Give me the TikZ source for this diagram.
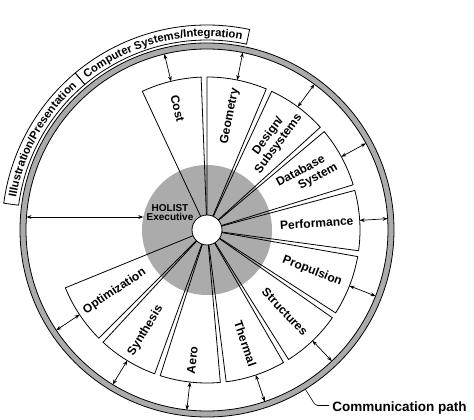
\documentclass[tikz,border=0pt]{standalone}
\usepackage{fontspec}
\setmainfont{Liberation Sans}
\usetikzlibrary{arrows.meta,decorations.text}
\newcommand\myarcfont{\fontsize{11.3}{13}\selectfont\bfseries}
\begin{document}
\begin{tikzpicture}[x=1pt,y=1pt,
  line width=0.8pt,
  link/.style={{Stealth[length=5pt,width=3.8pt]}-{Stealth[length=5pt,width=3.8pt]}, line width=0.7pt},
  modlabel/.style={font=\fontsize{12}{13}\selectfont\bfseries, align=center, inner sep=0pt},
  halftone/.style={fill=black!33},
  leader/.style={line width=0.6pt, rounded corners=2pt},
]
\useasboundingbox (-207,-190) rectangle (267,230);
% communication ring
\fill[halftone, even odd rule] (0,0) circle[radius=187] (0,0) circle[radius=181];
\draw (0,0) circle[radius=187];
\draw (0,0) circle[radius=181];
% outer label boxes
\draw (78:190) arc[start angle=78,end angle=130,radius=190] -- (130:205)
      arc[start angle=130,end angle=78,radius=205] -- cycle;
\draw (130:190) arc[start angle=130,end angle=172.5,radius=190] -- (172.5:205)
      arc[start angle=172.5,end angle=130,radius=205] -- cycle;
\path[decorate,decoration={text along path,text align=center,
      text={|\myarcfont|Computer Systems/Integration}}]
      (129:193.5) arc[start angle=129,end angle=79,radius=193.5];
\path[decorate,decoration={text along path,text align=center,
      text={|\myarcfont|Illustration/Presentation}}]
      (171.5:193.5) arc[start angle=171.5,end angle=131,radius=193.5];
% hub
\fill[halftone] (0,0) circle[radius=65];
% module sectors
\foreach \k in {0,...,10} {
  \pgfmathsetmacro\sa{115-25*\k}
  \pgfmathsetmacro\sb{\sa-22.8}
  \draw (\sa:15) -- (\sa:153) arc[start angle=\sa,end angle=\sb,radius=153] -- (\sb:15);
}
\node[circle, draw, fill=white, minimum size=30pt, inner sep=0pt] (core) at (0,0) {};
% module labels
\node[modlabel, rotate=-76.4] (cost) at (103.6:125) {Cost};
\node[modlabel, rotate=78.6] (geom) at (78.6:116) {Geometry};
\node[modlabel, rotate=53.6] (design) at (53.6:112) {Design/\\Subsystems};
\node[modlabel, rotate=28.6, align=left] (db) at (28.6:114) {Database\\\hspace*{18pt}System};
\node[modlabel, rotate=3.6] (perf) at (3.6:110) {Performance};
\node[modlabel, rotate=-21.4] (prop) at (-21.4:113) {Propulsion};
\node[modlabel, rotate=-46.4] (struct) at (-46.4:113) {Structures};
\node[modlabel, rotate=-71.4] (therm) at (-71.4:120) {Thermal};
\node[modlabel, rotate=83.6] (aero) at (-96.4:131) {Aero};
\node[modlabel, rotate=58.6] (synth) at (-121.4:118) {Synthesis};
\node[modlabel, rotate=33.6] (opt) at (-146.4:111) {Optimization};
% links ring <-> modules
\foreach \c [count=\i] in {103.6,78.6,53.6,28.6,3.6,-21.4,-46.4,-71.4,-96.4,-121.4,-146.4} {
  \coordinate (r\i) at (\c:181);
  \coordinate (m\i) at (\c:153);
  \draw[link] (r\i) -- (m\i);
}
% executive
\node[font=\fontsize{10}{8.5}\selectfont\bfseries, align=center, inner sep=0pt] (holist) at (-37,17.5) {HOLIST\\Executive};
\coordinate (h1) at (-180.5,13);
\coordinate (h2) at (-63.7,13);
\draw[link] (h1) -- (h2);
% communication path label
\node[font=\fontsize{13.5}{14}\selectfont\bfseries, anchor=base west, inner sep=0pt] (comm) at (125,-181) {Communication path};
\coordinate (l0) at (-58.3:187);
\coordinate (l1) at (108.5,-175.5);
\coordinate (l2) at (122,-175.5);
\draw[leader] (l0) -- (l1) -- (l2);
\end{tikzpicture}
\end{document}
